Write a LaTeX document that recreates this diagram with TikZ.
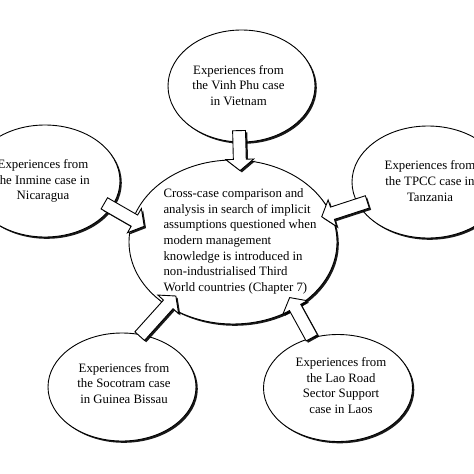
\documentclass[tikz,border=0pt]{standalone}
\usepackage{fontspec}
\setmainfont{Liberation Serif}
\usetikzlibrary{shapes.geometric,shapes.arrows,shadows}
\begin{document}
\begin{tikzpicture}[x=1pt,y=-1pt,
  txt/.style={font=\fontsize{12.8}{15.6}\selectfont, align=center, inner sep=0pt},
  shad/.style={drop shadow={shadow xshift=1.8pt, shadow yshift=-1.8pt, fill=black, opacity=0.9}},
  bubble/.style={ellipse, draw=black, line width=0.9pt, fill=white, inner sep=0pt, shad},
  blockarrow/.style={single arrow, draw=black, line width=0.9pt, fill=white,
    inner xsep=0pt, inner ysep=6pt, single arrow head extend=7.5pt,
    single arrow tip angle=102, shad, sloped, allow upside down, midway}
]
\useasboundingbox (0,0) rectangle (474,474);
\clip (0,0) rectangle (474,474);
\fill[white] (0,0) rectangle (474,474);

% ellipses
\node[bubble, minimum width=147pt, minimum height=112pt] (top) at (241.5,86) {};
\node[bubble, minimum width=150pt, minimum height=112pt] (left) at (45,181) {};
\node[bubble, minimum width=152pt, minimum height=112pt] (right) at (428,182) {};
\node[bubble, minimum width=148pt, minimum height=108pt] (bl) at (122,387) {};
\node[bubble, minimum width=149pt, minimum height=107pt] (br) at (338,388) {};
\node[bubble, minimum width=208pt, minimum height=164pt] (center) at (233,242) {};

% texts
\node[txt] (toptext) at (238.5,85.5) {Experiences from\\the Vinh Phu case\\in Vietnam};
\node[txt] (lefttext) at (43,181) {Experiences from\\the Inmine case in\\Nicaragua};
\node[txt] (righttext) at (430,181) {Experiences from\\the TPCC case in\\Tanzania};
\node[txt] (bltext) at (124,383.5) {Experiences from\\the Socotram case\\in Guinea Bissau};
\node[txt] (brtext) at (341,385.5) {Experiences from\\the Lao Road\\Sector Support\\case in Laos};
\node[txt, align=left] (centertext) at (240,241.5) {Cross-case comparison and\\analysis in search of implicit\\assumptions questioned when\\modern management\\knowledge is introduced in\\non-industrialised Third\\World countries (Chapter 7)};

% block arrows
\coordinate (t1) at (239,128);  \coordinate (h1) at (240,168);
\coordinate (t2) at (102,202);  \coordinate (h2) at (142,225);
\coordinate (t3) at (370,201);  \coordinate (h3) at (324,216);
\coordinate (t4) at (138,338);  \coordinate (h4) at (174,298);
\coordinate (t5) at (313,340);  \coordinate (h5) at (291,300);
\path (t1) -- (h1) node[blockarrow, minimum height=40pt] (a1) {};
\path (t2) -- (h2) node[blockarrow, minimum height=46pt] (a2) {};
\path (t3) -- (h3) node[blockarrow, minimum height=48pt] (a3) {};
\path (t4) -- (h4) node[blockarrow, minimum height=54pt] (a4) {};
\path (t5) -- (h5) node[blockarrow, minimum height=46pt] (a5) {};
\end{tikzpicture}
\end{document}
